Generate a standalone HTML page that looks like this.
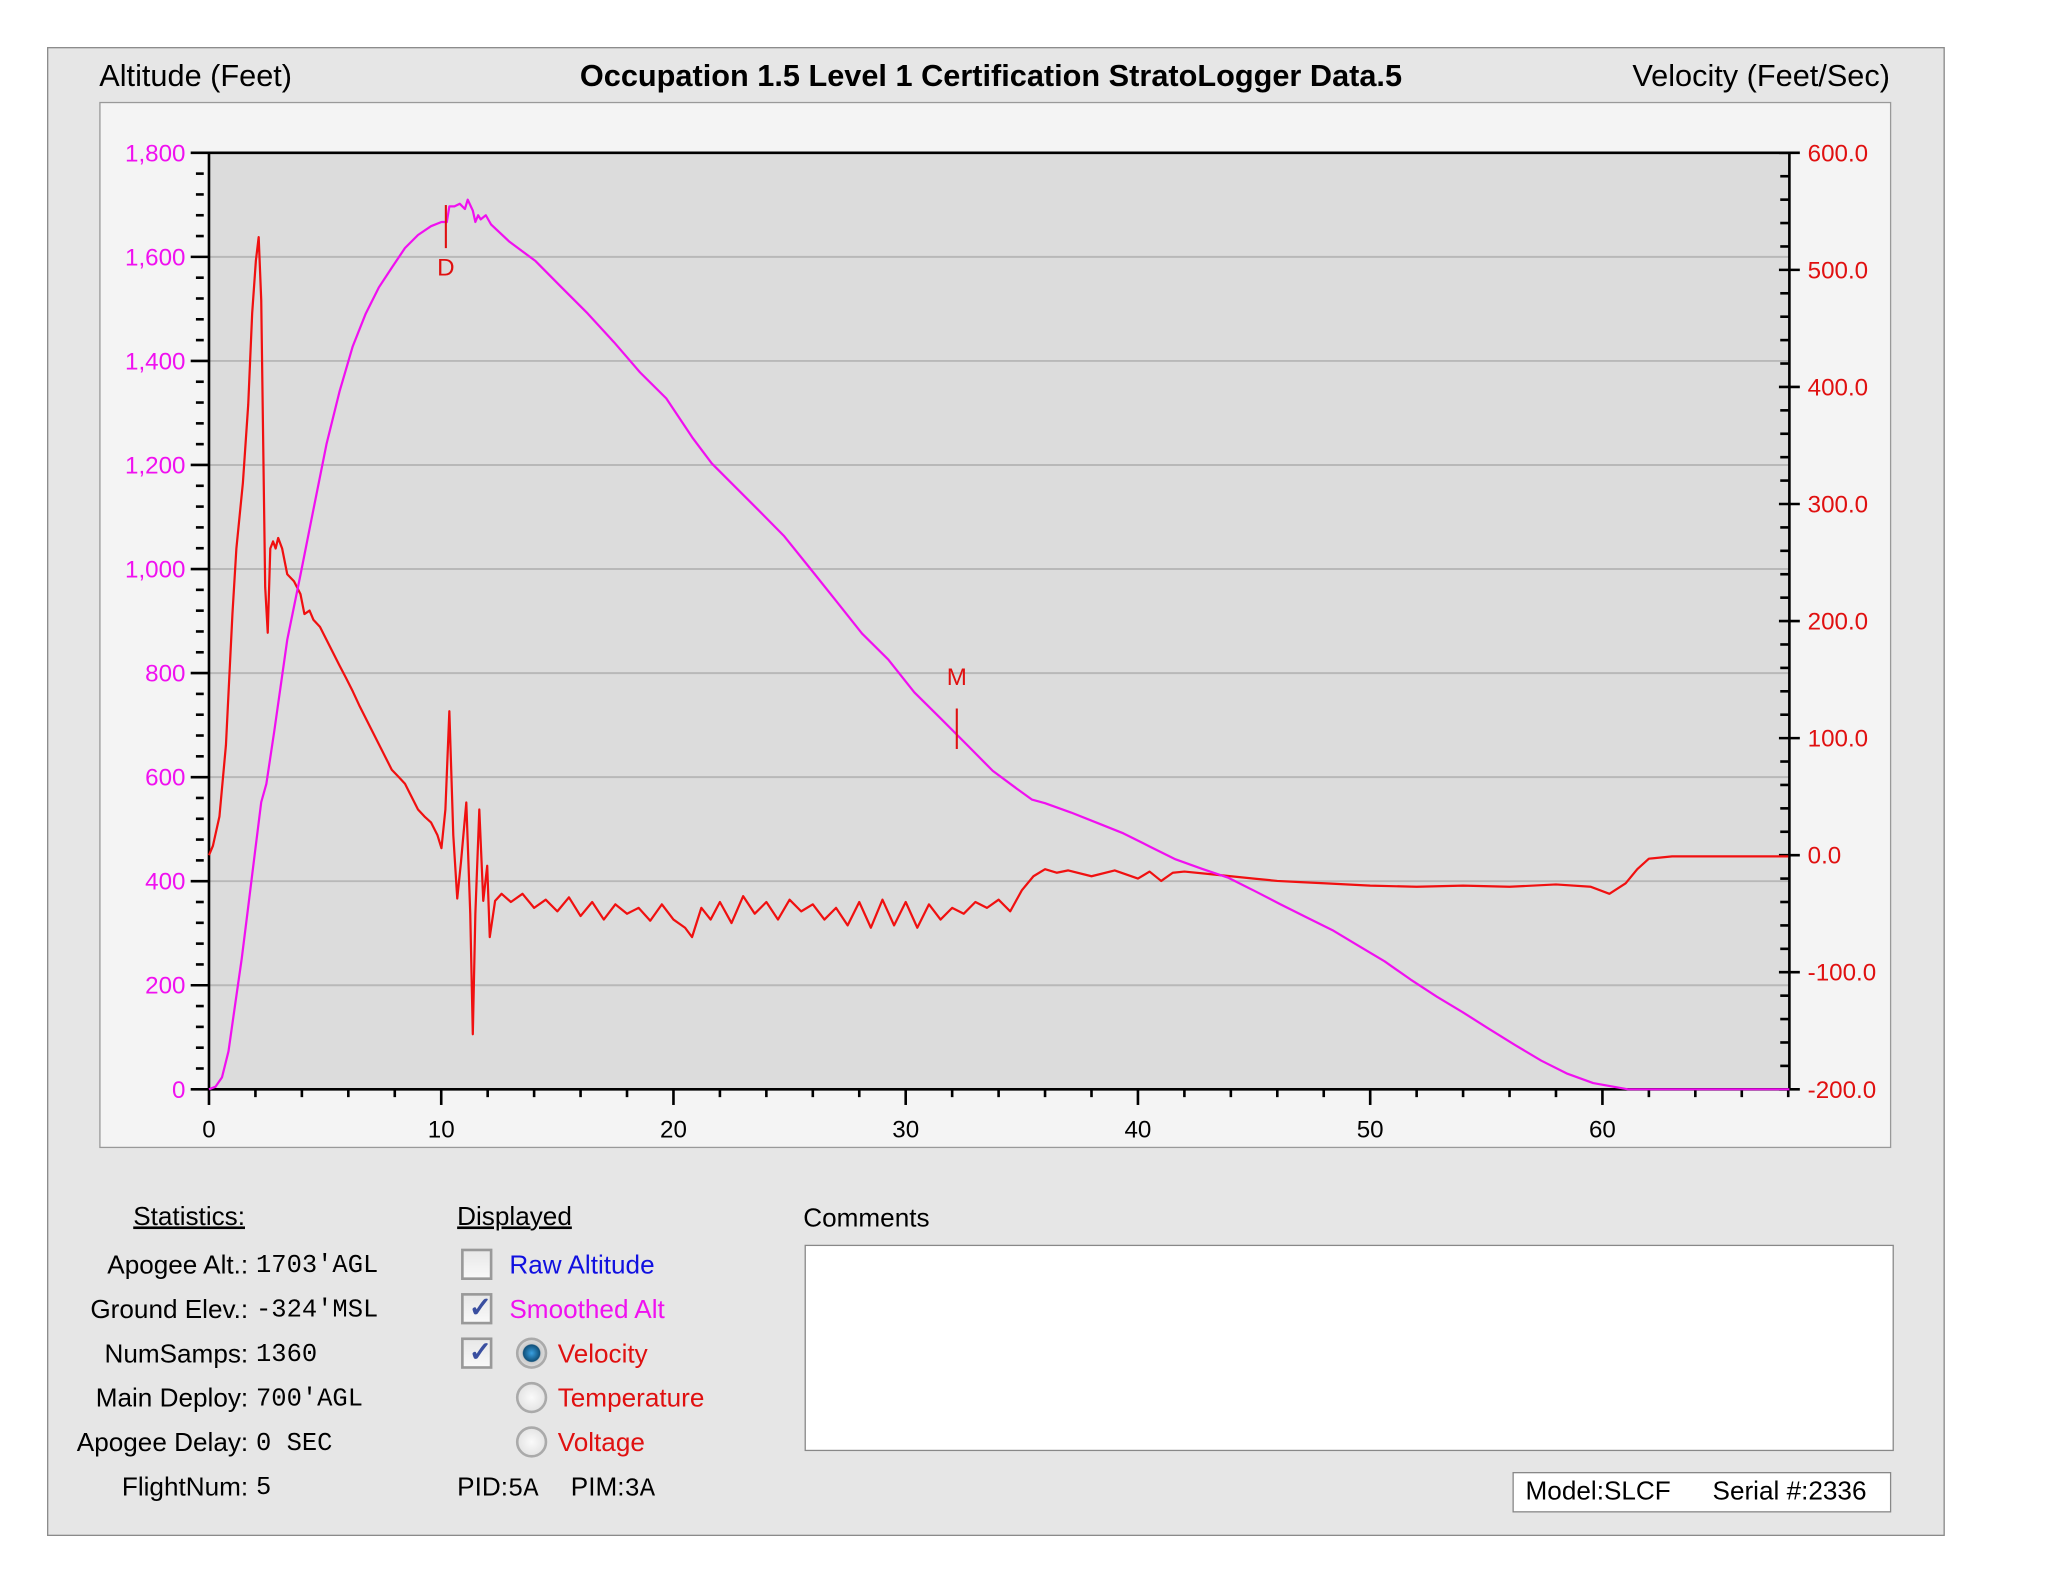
<!DOCTYPE html>
<html><head><meta charset="utf-8"><style>
html,body{margin:0;padding:0;background:#fff;width:2048px;height:1582px;overflow:hidden}
#wrap{position:absolute;left:0;top:0;width:1568px;height:1212px;transform:scale(1.30612);transform-origin:0 0;font-family:"Liberation Sans",sans-serif}
.abs{position:absolute;white-space:nowrap}
.lbl{font-size:20px;color:#000}
.mono{font-family:"Liberation Mono",monospace;font-size:19.5px}
.cb{position:absolute;width:24px;height:24px;border:2px solid #999;background:linear-gradient(#e8e8e8,#f8f8f8);box-sizing:border-box}
.cb span{position:absolute;left:4px;top:-3px;color:#3a4fa0;font-size:21px;font-weight:bold}
.rb{position:absolute;width:24px;height:24px;border-radius:50%;border:2px solid #aaa;background:radial-gradient(#fafafa,#ddd);box-sizing:border-box}
</style></head><body>
<div id="wrap">
<div class="abs" style="left:36px;top:36px;width:1453px;height:1140px;background:#e6e6e6;border:1px solid #8a8a8a;box-sizing:border-box"></div>
<div class="abs" style="left:76px;top:78px;width:1372px;height:801px;background:#f4f4f4;border:1px solid #999;box-sizing:border-box"></div>
<div class="abs" style="left:76px;top:45px;font-size:23.5px">Altitude (Feet)</div>
<div class="abs" style="left:444px;top:45px;font-size:23.5px;font-weight:bold">Occupation 1.5 Level 1 Certification StratoLogger Data.5</div>
<div class="abs" style="right:121px;top:45px;font-size:23.5px">Velocity (Feet/Sec)</div>
<svg id="chart" class="abs" style="left:0;top:0" width="1568" height="900"></svg>

<div class="abs lbl" style="left:102px;top:921px;text-decoration:underline">Statistics:</div>
<div class="abs lbl" style="right:1378px;top:958px">Apogee Alt.: <span class="mono" style="position:absolute;left:100%;margin-left:6px">1703'AGL</span></div>
<div class="abs lbl" style="right:1378px;top:992px">Ground Elev.: <span class="mono" style="position:absolute;left:100%;margin-left:6px">-324'MSL</span></div>
<div class="abs lbl" style="right:1378px;top:1026px">NumSamps: <span class="mono" style="position:absolute;left:100%;margin-left:6px">1360</span></div>
<div class="abs lbl" style="right:1378px;top:1060px">Main Deploy: <span class="mono" style="position:absolute;left:100%;margin-left:6px">700'AGL</span></div>
<div class="abs lbl" style="right:1378px;top:1094px">Apogee Delay: <span class="mono" style="position:absolute;left:100%;margin-left:6px">0&nbsp;SEC</span></div>
<div class="abs lbl" style="right:1378px;top:1128px">FlightNum: <span class="mono" style="position:absolute;left:100%;margin-left:6px">5</span></div>

<div class="abs lbl" style="left:350px;top:921px;text-decoration:underline">Displayed</div>
<div class="cb" style="left:353px;top:956px"></div>
<div class="abs lbl" style="left:390px;top:958px;color:#1010e0">Raw Altitude</div>
<div class="cb" style="left:353px;top:990px"><span>✓</span></div>
<div class="abs lbl" style="left:390px;top:992px;color:#f010f0">Smoothed Alt</div>
<div class="cb" style="left:353px;top:1024px"><span>✓</span></div>
<div class="rb" style="left:395px;top:1024px;background:radial-gradient(circle,#3aa0e0 0,#10507a 45%,#ccc 50%,#eee 100%)"></div>
<div class="abs lbl" style="left:427px;top:1026px;color:#e01010">Velocity</div>
<div class="rb" style="left:395px;top:1058px"></div>
<div class="abs lbl" style="left:427px;top:1060px;color:#e01010">Temperature</div>
<div class="rb" style="left:395px;top:1092px"></div>
<div class="abs lbl" style="left:427px;top:1094px;color:#e01010">Voltage</div>
<div class="abs lbl" style="left:350px;top:1128px">PID:<span class="mono">5A</span></div>
<div class="abs lbl" style="left:437px;top:1128px">PIM:<span class="mono">3A</span></div>

<div class="abs lbl" style="left:615px;top:922px">Comments</div>
<div class="abs" style="left:616px;top:953px;width:834px;height:158px;background:#fff;border:1px solid #888;box-sizing:border-box"></div>
<div class="abs" style="left:1158px;top:1127px;width:290px;height:31px;background:#fff;border:1px solid #888;box-sizing:border-box;font-size:20px;padding:3px 0 0 9px">Model:SLCF<span style="margin-left:32px">Serial #:2336</span></div>
</div>
<script>
const altTimes=[0,0.28,0.56,0.84,1.12,1.41,1.69,1.97,2.25,2.47,2.81,3.37,3.94,4.5,5.06,5.62,6.19,6.75,7.31,7.87,8.44,9.0,9.56,10.01,10.24,10.35,10.57,10.8,11.02,11.14,11.36,11.47,11.59,11.7,11.92,12.15,12.94,14.06,15.19,16.31,17.44,18.56,19.69,20.81,21.65,22.5,23.62,24.75,25.87,27.0,28.12,29.25,30.37,31.5,32.62,33.75,34.87,35.43,36.0,37.12,38.25,39.37,40.49,41.62,42.74,43.87,44.99,46.12,47.24,48.37,49.49,50.62,51.74,52.87,53.99,55.12,56.24,57.37,58.49,59.6,61.1,68.05];
const altValues=[0,5,23,73,161,251,351,452,552,587,688,864,989,1115,1240,1341,1428,1491,1541,1579,1617,1642,1659,1667,1667,1697,1697,1702,1692,1710,1689,1667,1680,1672,1680,1662,1629,1592,1541,1491,1436,1378,1328,1253,1203,1165,1115,1064,1002,939,876,826,763,713,663,612,575,557,550,532,512,492,467,442,424,407,382,356,331,306,276,246,211,178,148,116,85,55,30,12,0,0];
const velTimes=[0,0.17,0.45,0.73,1.01,1.18,1.46,1.69,1.86,2.02,2.14,2.25,2.42,2.53,2.64,2.76,2.87,2.98,3.15,3.37,3.66,3.94,4.11,4.33,4.5,4.78,5.06,5.34,5.62,5.91,6.19,6.47,6.75,7.03,7.31,7.59,7.87,8.16,8.44,8.72,9.0,9.28,9.56,9.84,10.01,10.18,10.35,10.52,10.69,10.85,11.08,11.25,11.36,11.47,11.64,11.81,11.98,12.09,12.32,12.6,13.0,13.5,14.0,14.5,15.0,15.5,16.0,16.5,17.0,17.5,18.0,18.5,19.0,19.5,20.0,20.5,20.8,21.2,21.6,22.0,22.5,23.0,23.5,24.0,24.5,25.0,25.5,26.0,26.5,27.0,27.5,28.0,28.5,29.0,29.5,30.0,30.5,31.0,31.5,32.0,32.5,33.0,33.5,34.0,34.5,35.0,35.5,36.0,36.5,37.0,38.0,39.0,40.0,40.5,41.0,41.5,42.0,43.0,44.0,45.0,46.0,47.0,48.0,50.0,52.0,54.0,56.0,58.0,59.5,60.3,61.0,61.5,62.0,63.0,65.0,68.0];
const velValues=[0,8,33,94,206,262,318,385,463,508,528,474,229,190,262,268,262,271,262,240,234,223,206,209,201,195,184,173,162,151,140,128,117,106,95,84,73,67,61,50,39,33,28,17,6,39,123,17,-37,-6,45,-50,-153,-50,39,-39,-9,-70,-39,-33,-40,-33,-45,-38,-48,-36,-52,-40,-55,-42,-50,-45,-56,-42,-55,-62,-70,-45,-55,-40,-58,-35,-50,-40,-55,-38,-48,-42,-55,-45,-60,-40,-62,-38,-60,-40,-62,-42,-55,-45,-50,-40,-45,-38,-48,-30,-18,-12,-15,-13,-18,-13,-20,-14,-22,-15,-14,-16,-18,-20,-22,-23,-24,-26,-27,-26,-27,-25,-27,-33,-24,-12,-3,-1,-1,-1];
const xTickLabels=[0,10,20,30,40,50,60];
const altTickLabels=[0,200,400,600,800,1000,1200,1400,1600,1800];
const velTickLabels=[-200,-100,0,100,200,300,400,500,600];
const markerNames=['D','M'];
const markerTimes=[10.2,32.2];

const NS='http://www.w3.org/2000/svg';
const svg=document.getElementById('chart');
const X0=160,X1=1370,Y0=834,Y1=117,TMAX=68.05;
const xs=t=>X0+(t/TMAX)*(X1-X0);
const ya=a=>Y0-(a/1800)*(Y0-Y1);
const yv=v=>Y0-((v+200)/800)*(Y0-Y1);
function mk(tag,attrs,parent){const e=document.createElementNS(NS,tag);for(const k in attrs)e.setAttribute(k,attrs[k]);(parent||svg).appendChild(e);return e;}
const plot=mk('rect',{x:X0,y:Y1,width:X1-X0,height:Y0-Y1,fill:'#dcdcdc'});


altTickLabels.forEach(a=>{if(a>0&&a<1800){const g=mk('line',{x1:X0,x2:X1,y1:ya(a),y2:ya(a),stroke:'#b8b8b8','stroke-width':1.5});

}});
for(let a=0;a<=1800;a+=40){const maj=a%200===0;mk('line',{x1:maj?146:150,x2:maj?X0:156,y1:ya(a),y2:ya(a),stroke:'#000','stroke-width':2});}
altTickLabels.forEach(a=>{const t=mk('text',{x:142,y:ya(a)+6.5,'text-anchor':'end','font-size':18.5,fill:'#f010f0','font-family':'Liberation Sans, sans-serif'});t.textContent=a.toLocaleString('en-US');

});
for(let v=-200;v<=600;v+=20){const maj=v%100===0;mk('line',{x1:maj?1362:1363,x2:maj?1378:X1,y1:yv(v),y2:yv(v),stroke:'#000','stroke-width':2});}
velTickLabels.forEach(v=>{const t=mk('text',{x:1384,y:yv(v)+6.5,'font-size':18.5,fill:'#e01010','font-family':'Liberation Sans, sans-serif'});t.textContent=v.toFixed(1);

});
for(let s=0;s<=68;s+=2){const maj=s%10===0;mk('line',{x1:xs(s),x2:xs(s),y1:Y0,y2:Y0+(maj?12:6),stroke:'#000','stroke-width':2});}
xTickLabels.forEach(s=>{const t=mk('text',{x:xs(s),y:871,'text-anchor':'middle','font-size':18.5,fill:'#000','font-family':'Liberation Sans, sans-serif'});t.textContent=s;

});
mk('polyline',{points:`${X0},${Y0} ${X0},${Y1} ${X1},${Y1} ${X1},${Y0}`,fill:'none',stroke:'#000','stroke-width':2});
mk('line',{x1:X0,x2:X1,y1:Y0,y2:Y0,stroke:'#000','stroke-width':2});
const vl=mk('polyline',{points:velTimes.map((t,i)=>xs(t)+','+yv(velValues[i])).join(' '),fill:'none',stroke:'#f01010','stroke-width':1.7,'stroke-linejoin':'round'});


const al=mk('polyline',{points:altTimes.map((t,i)=>xs(t)+','+ya(altValues[i])).join(' '),fill:'none',stroke:'#f010f0','stroke-width':1.7,'stroke-linejoin':'round'});


markerNames.forEach((n,i)=>{const t=markerTimes[i];let a=0;for(let k=1;k<altTimes.length;k++){if(altTimes[k]>=t){const f=(t-altTimes[k-1])/(altTimes[k]-altTimes[k-1]);a=altValues[k-1]+f*(altValues[k]-altValues[k-1]);break;}}
const y=ya(a);const above=n==='M';
const l=mk('line',{x1:xs(t),x2:xs(t),y1:above?y-20:y-13,y2:above?y+11:y+20,stroke:'#e01010','stroke-width':1.6});


const tx=mk('text',{x:xs(t),y:above?y-38:y+41,'text-anchor':'middle','font-size':18.5,fill:'#e01010','font-family':'Liberation Sans, sans-serif'});tx.textContent=n;

});
</script>
</body></html>
